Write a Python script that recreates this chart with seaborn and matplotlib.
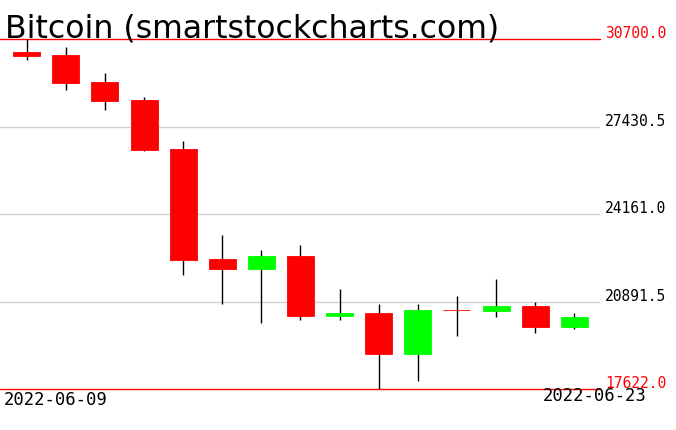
"""Daily Bitcoin candlestick chart, smartstockcharts style."""

import matplotlib

matplotlib.use("Agg")

import matplotlib.pyplot as plt
import matplotlib.transforms as mtransforms
import numpy as np
import pandas as pd
import seaborn as sns

dates = [
    "2022-06-09", "2022-06-10", "2022-06-11", "2022-06-12", "2022-06-13",
    "2022-06-14", "2022-06-15", "2022-06-16", "2022-06-17", "2022-06-18",
    "2022-06-19", "2022-06-20", "2022-06-21", "2022-06-22", "2022-06-23",
]
opens = [30214, 30102, 29093, 28432, 26590, 22479, 22118, 22591, 20350, 20462,
         18930, 20580, 20549, 20723, 19950]
highs = [30700, 30390, 29430, 28521, 26889, 23376, 22816, 23002, 21358, 20798,
         20798, 21097, 21732, 20873, 20462]
lows = [29926, 28806, 28058, 26526, 21893, 20809, 20099, 20211, 20211, 17622,
        17932, 19613, 20324, 19726, 19875]
closes = [30076, 29067, 28395, 26564, 22453, 22118, 22591, 20361, 20450, 18930,
          20586, 20560, 20723, 19950, 20312]

TITLE = "Bitcoin (smartstockcharts.com)"
UP_COLOR = "#00ff00"
DOWN_COLOR = "#ff0000"
MONO = ["DejaVu Sans Mono"]

df = pd.DataFrame({"Date": dates, "Open": opens, "High": highs, "Low": lows, "Close": closes})
df["x"] = np.arange(len(df))

sns.set_theme(style="white")
plt.rcParams["font.family"] = ["DejaVu Sans"]
plt.rcParams["text.color"] = "black"

W, H = 676, 431
fig = plt.figure(figsize=(W / 100, H / 100), dpi=100)
ax = fig.add_axes([0, (H - 390) / H, 600 / W, 350 / H])

lo, hi = df["Low"].min(), df["High"].max()
levels = np.linspace(lo, hi, 5)

# grid lines for the inner levels, red for the extremes
for lvl in levels[1:-1]:
    ax.axhline(lvl, color="#d3d3d3", lw=1.0, zorder=0)
for lvl in (lo, hi):
    ax.axhline(lvl, color="red", lw=1.0, zorder=1, clip_on=False)

# wicks
ax.vlines(df["x"], df["Low"], df["High"], color="black", lw=1.0, zorder=2)

# bodies
up = df["Close"] >= df["Open"]
colors = np.where(up, UP_COLOR, DOWN_COLOR)
body_bottom = df[["Open", "Close"]].min(axis=1)
body_height = (df["Close"] - df["Open"]).abs()
ax.bar(df["x"], body_height, bottom=body_bottom, width=0.69, color=colors,
       edgecolor=colors, linewidth=0.6, zorder=3)

ax.set_xlim(-0.683, 14.658)
ax.set_ylim(lo, hi)
ax.set_xticks([])
ax.set_yticks([])
for spine in ax.spines.values():
    spine.set_visible(False)
ax.patch.set_alpha(0)

# price labels on the right
trans = mtransforms.blended_transform_factory(ax.transAxes, ax.transData)
offset = mtransforms.ScaledTranslation(5 / 100, 1.5 / 100, fig.dpi_scale_trans)
for i, lvl in enumerate(levels):
    color = "red" if i in (0, len(levels) - 1) else "black"
    ax.text(1.0, lvl, f"{lvl:.1f}", transform=trans + offset, ha="left", va="baseline",
            fontsize=10.5, family=MONO, color=color, clip_on=False)

# first and last date
fig.text(4 / W, 1 - 400 / H, df["Date"].iloc[0], ha="left", va="center",
         fontsize=12.4, family=MONO)
fig.text(646 / W, 1 - 396 / H, df["Date"].iloc[-1], ha="right", va="center",
         fontsize=12.4, family=MONO)

fig.text(5 / W, 1 - 37.5 / H, TITLE, ha="left", va="baseline", fontsize=22.7,
         color="black")

fig.savefig("out.png", dpi=100, facecolor="white")
